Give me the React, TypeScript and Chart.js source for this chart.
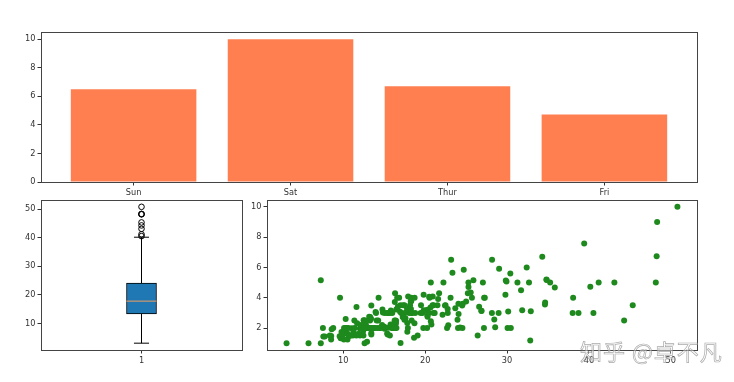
import React, { useEffect, useRef } from "react";
import { Chart, registerables } from "chart.js";

Chart.register(...registerables);

// ---- Data ----
const days = ["Sun", "Sat", "Thur", "Fri"];
const maxTipByDay = [6.5, 10.0, 6.7, 4.73];

const totalBill = [
  16.99, 10.34, 21.01, 23.68, 24.59, 25.29, 8.77, 26.88, 15.04, 14.78, 10.27, 35.26, 15.42, 18.43, 14.83, 21.58, 10.33, 16.29, 16.97, 20.65,
  17.92, 20.29, 15.77, 39.42, 19.82, 17.81, 13.37, 12.69, 21.7, 19.65, 9.55, 18.35, 15.06, 20.69, 17.78, 24.06, 16.31, 16.93, 18.69, 31.27,
  16.04, 17.46, 13.94, 9.68, 30.4, 18.29, 22.23, 32.4, 28.55, 18.04, 12.54, 10.29, 34.81, 9.94, 25.56, 19.49, 38.01, 26.41, 11.24, 48.27,
  20.29, 13.81, 11.02, 18.29, 17.59, 20.08, 16.45, 3.07, 20.23, 15.01, 12.02, 17.07, 26.86, 25.28, 14.73, 10.51, 17.92, 27.2, 22.76, 17.29,
  19.44, 16.66, 10.07, 32.68, 15.98, 34.83, 13.03, 18.28, 24.71, 21.16, 28.97, 22.49, 5.75, 16.32, 22.75, 40.17, 27.28, 12.03, 21.01, 12.46,
  11.35, 15.38, 44.3, 22.42, 20.92, 15.36, 20.49, 25.21, 18.24, 14.31, 14.0, 7.25, 38.07, 23.95, 25.71, 17.31, 29.93, 10.65, 12.43, 24.08,
  11.69, 13.42, 14.26, 15.95, 12.48, 29.8, 8.52, 14.52, 11.38, 22.82, 19.08, 20.27, 11.17, 12.26, 18.26, 8.51, 10.33, 14.15, 16.0, 13.16,
  17.47, 34.3, 41.19, 27.05, 16.43, 8.35, 18.64, 11.87, 9.78, 7.51, 14.07, 13.13, 17.26, 24.55, 19.77, 29.85, 48.17, 25.0, 13.39, 16.49,
  21.5, 12.66, 16.21, 13.81, 17.51, 24.52, 20.76, 31.71, 10.59, 10.63, 50.81, 15.81, 7.25, 31.85, 16.82, 32.9, 17.89, 14.48, 9.6, 34.63,
  34.65, 23.33, 45.35, 23.17, 40.55, 20.69, 20.9, 30.46, 18.15, 23.1, 15.69, 19.81, 28.44, 15.48, 16.58, 7.56, 10.34, 43.11, 13.0, 13.51,
  18.71, 12.74, 13.0, 16.4, 20.53, 16.47, 26.59, 38.73, 24.27, 12.76, 30.06, 25.89, 48.33, 13.27, 28.17, 12.9, 28.15, 11.59, 7.74, 30.14,
  12.16, 13.42, 8.58, 15.98, 13.42, 16.27, 10.09, 20.45, 13.28, 22.12, 24.01, 15.69, 11.61, 10.77, 15.53, 10.07, 12.6, 32.83, 35.83, 29.03,
  27.18, 22.67, 17.82, 18.78,
];

const tip = [
  1.01, 1.66, 3.5, 3.31, 3.61, 4.71, 2.0, 3.12, 1.96, 3.23, 1.71, 5.0, 1.57, 3.0, 3.02, 3.92, 1.67, 3.71, 3.5, 3.35,
  4.08, 2.75, 2.23, 7.58, 3.18, 2.34, 2.0, 2.0, 4.3, 3.0, 1.45, 2.5, 3.0, 2.45, 3.27, 3.6, 2.0, 3.07, 2.31, 5.0,
  2.24, 2.54, 3.06, 1.32, 5.6, 3.0, 5.0, 6.0, 2.05, 3.0, 2.5, 2.6, 5.2, 1.56, 4.34, 3.51, 3.0, 1.5, 1.76, 6.73,
  3.21, 2.0, 1.98, 3.76, 2.64, 3.15, 2.47, 1.0, 2.01, 2.09, 1.97, 3.0, 3.14, 5.0, 2.2, 1.25, 3.08, 4.0, 3.0, 2.71,
  3.0, 3.4, 1.83, 5.0, 2.03, 5.17, 2.0, 4.0, 5.85, 3.0, 3.0, 3.5, 1.0, 4.3, 3.25, 4.73, 4.0, 1.5, 3.0, 1.5,
  2.5, 3.0, 2.5, 3.48, 4.08, 1.64, 4.06, 4.29, 3.76, 4.0, 3.0, 1.0, 4.0, 2.55, 4.0, 3.5, 5.07, 1.5, 1.8, 2.92,
  2.31, 1.68, 2.5, 2.0, 2.52, 4.2, 1.48, 2.0, 2.0, 2.18, 1.5, 2.83, 1.5, 2.0, 3.25, 1.25, 2.0, 2.0, 2.0, 2.75,
  3.5, 6.7, 5.0, 5.0, 2.3, 1.5, 1.36, 1.63, 1.73, 2.0, 2.5, 2.0, 2.74, 2.0, 2.0, 5.14, 5.0, 3.75, 2.61, 2.0,
  3.5, 2.5, 2.0, 2.0, 3.0, 3.48, 2.24, 4.5, 1.61, 2.0, 10.0, 3.16, 5.15, 3.18, 4.0, 3.11, 2.0, 2.0, 4.0, 3.55,
  3.68, 5.65, 3.5, 6.5, 3.0, 5.0, 3.5, 2.0, 3.5, 4.0, 1.5, 4.19, 2.56, 2.02, 4.0, 1.44, 2.0, 5.0, 2.0, 2.0,
  4.0, 2.01, 2.0, 2.5, 4.0, 3.23, 3.41, 3.0, 2.03, 2.23, 2.0, 5.16, 9.0, 2.5, 6.5, 1.1, 3.0, 1.5, 1.44, 3.09,
  2.2, 3.48, 1.92, 3.0, 1.58, 2.5, 2.0, 3.0, 2.72, 2.88, 2.0, 3.0, 3.39, 1.47, 3.0, 1.25, 1.0, 1.17, 4.67, 5.92,
  2.0, 2.0, 1.75, 3.0,
];

const barTicks = [0, 2, 4, 6, 8, 10];
const boxTicks = [10, 20, 30, 40, 50];
const scatterXTicks = [10, 20, 30, 40, 50];
const scatterYTicks = [2, 4, 6, 8, 10];

// ---- helpers ----
function quantile(sorted: number[], q: number) {
  const pos = (sorted.length - 1) * q;
  const lo = Math.floor(pos);
  const hi = Math.ceil(pos);
  return sorted[lo] + (sorted[hi] - sorted[lo]) * (pos - lo);
}

function boxStats(values: number[]) {
  const s = [...values].sort((a, b) => a - b);
  const q1 = quantile(s, 0.25);
  const med = quantile(s, 0.5);
  const q3 = quantile(s, 0.75);
  const iqr = q3 - q1;
  const lo = s.filter((v) => v >= q1 - 1.5 * iqr)[0];
  const inRange = s.filter((v) => v <= q3 + 1.5 * iqr);
  const hi = inRange[inRange.length - 1];
  const outliers = s.filter((v) => v < lo || v > hi);
  return { q1, med, q3, lo, hi, outliers };
}

const W = 734;
const H = 382;
const FONT = { family: "'DejaVu Sans', sans-serif", size: 8.2 };
const TICK_COLOR = "#333";
const FRAME = "#444";
const Y_AXIS_W = 30;
const X_AXIS_H = 20;

const framePlugin = {
  id: "frame",
  afterDraw(chart: any) {
    const { ctx, chartArea: a } = chart;
    ctx.save();
    ctx.strokeStyle = FRAME;
    ctx.lineWidth = 1;
    ctx.strokeRect(Math.round(a.left) + 0.5, Math.round(a.top) + 0.5, Math.round(a.right - a.left), Math.round(a.bottom - a.top));
    ctx.restore();
  },
};

function area(left: number, top: number, right: number, bottom: number) {
  return {
    padding: {
      left: left - Y_AXIS_W,
      top,
      right: W - right,
      bottom: H - bottom - X_AXIS_H,
    },
  };
}

function axis(min: number, max: number, ticks: number[], isX: boolean, label?: (v: number) => string) {
  return {
    type: "linear" as const,
    min,
    max,
    offset: false,
    afterBuildTicks: (s: any) => {
      s.ticks = ticks.map((v) => ({ value: v }));
    },
    afterFit: (s: any) => {
      if (isX) s.height = X_AXIS_H;
      else s.width = Y_AXIS_W;
    },
    grid: {
      display: true,
      offset: false,
      drawOnChartArea: false,
      drawTicks: true,
      tickLength: 3.5,
      color: TICK_COLOR,
      lineWidth: 1,
    },
    border: { display: false },
    ticks: {
      font: FONT,
      color: TICK_COLOR,
      padding: 2,
      maxRotation: 0,
      autoSkip: false,
      callback: (v: any) => (label ? label(Number(v)) : String(v)),
    },
  };
}

const baseOpts = {
  responsive: false,
  animation: false as const,
  plugins: { legend: { display: false }, tooltip: { enabled: false } },
  events: [] as any[],
};

export default function App() {
  const c1 = useRef<HTMLCanvasElement>(null);
  const c2 = useRef<HTMLCanvasElement>(null);
  const c3 = useRef<HTMLCanvasElement>(null);

  useEffect(() => {
    const charts: Chart[] = [];

    // Top: bar chart
    charts.push(
      new Chart(c1.current!, {
        type: "bar",
        data: {
          datasets: [
            {
              data: maxTipByDay.map((v, i) => ({ x: i, y: v })) as any,
              backgroundColor: "#ff7f50",
              barPercentage: 0.8,
              categoryPercentage: 1,
            },
          ],
        },
        options: {
          ...baseOpts,
          layout: area(41, 32, 697, 182),
          scales: {
            x: axis(-0.59, 3.59, [0, 1, 2, 3], true, (v) => days[v] ?? ""),
            y: axis(0, 10.5, barTicks, false),
          },
        } as any,
        plugins: [framePlugin],
      })
    );

    // Bottom-left: boxplot
    const st = boxStats(totalBill);
    const lineDs = (pts: { x: number; y: number }[], color = "#000") => ({
      type: "line" as const,
      data: pts,
      borderColor: color,
      borderWidth: 1,
      pointRadius: 0,
      fill: false,
    });
    charts.push(
      new Chart(c2.current!, {
        type: "bar",
        data: {
          datasets: [
            lineDs([{ x: 0.925, y: st.med }, { x: 1.075, y: st.med }], "#f0a060"),
            {
              type: "scatter",
              data: st.outliers.map((v) => ({ x: 1, y: v })),
              pointRadius: 2.8,
              borderColor: "#000",
              borderWidth: 1,
              backgroundColor: "rgba(0,0,0,0)",
            } as any,
            lineDs([{ x: 0.9625, y: st.hi }, { x: 1.0375, y: st.hi }]),
            lineDs([{ x: 0.9625, y: st.lo }, { x: 1.0375, y: st.lo }]),
            lineDs([{ x: 1, y: st.q3 }, { x: 1, y: st.hi }]),
            lineDs([{ x: 1, y: st.lo }, { x: 1, y: st.q1 }]),
            {
              type: "bar",
              data: [{ x: 1, y: [st.q1, st.q3] }] as any,
              backgroundColor: "#1f77b4",
              borderColor: "#000",
              borderWidth: 1,
              borderSkipped: false,
              barThickness: 30,
            } as any,
          ],
        },
        options: {
          ...baseOpts,
          layout: area(41, 200, 242, 350),
          scales: {
            x: axis(0.5, 1.5, [1], true),
            y: axis(0.68, 53.2, boxTicks, false),
          },
        } as any,
        plugins: [framePlugin],
      })
    );

    // Bottom-right: scatter
    charts.push(
      new Chart(c3.current!, {
        type: "scatter",
        data: {
          datasets: [
            {
              data: totalBill.map((x, i) => ({ x, y: tip[i] })),
              backgroundColor: "#1e8a1e",
              borderWidth: 0,
              pointRadius: 3,
            },
          ],
        },
        options: {
          ...baseOpts,
          layout: area(267, 200, 697, 350),
          scales: {
            x: axis(0.68, 53.2, scatterXTicks, true),
            y: axis(0.55, 10.45, scatterYTicks, false),
          },
        } as any,
        plugins: [framePlugin],
      })
    );

    return () => charts.forEach((c) => c.destroy());
  }, []);

  const cs: React.CSSProperties = { position: "absolute", left: 0, top: 0 };
  return (
    <div style={{ position: "absolute", left: 0, top: 0, width: W, height: H, background: "#fff", overflow: "hidden" }}>
      <canvas ref={c1} width={W} height={H} style={cs} />
      <canvas ref={c2} width={W} height={H} style={cs} />
      <canvas ref={c3} width={W} height={H} style={cs} />
      <div
        style={{
          position: "absolute",
          left: 580,
          top: 334,
          fontFamily: "'Noto Sans CJK SC', sans-serif",
          fontSize: 22,
          color: "rgba(255,255,255,0.45)",
          WebkitTextStroke: "0.7px rgba(140,140,140,0.75)",
          whiteSpace: "nowrap",
          letterSpacing: 1,
        }}
      >
        知乎 @卓不凡
      </div>
    </div>
  );
}
